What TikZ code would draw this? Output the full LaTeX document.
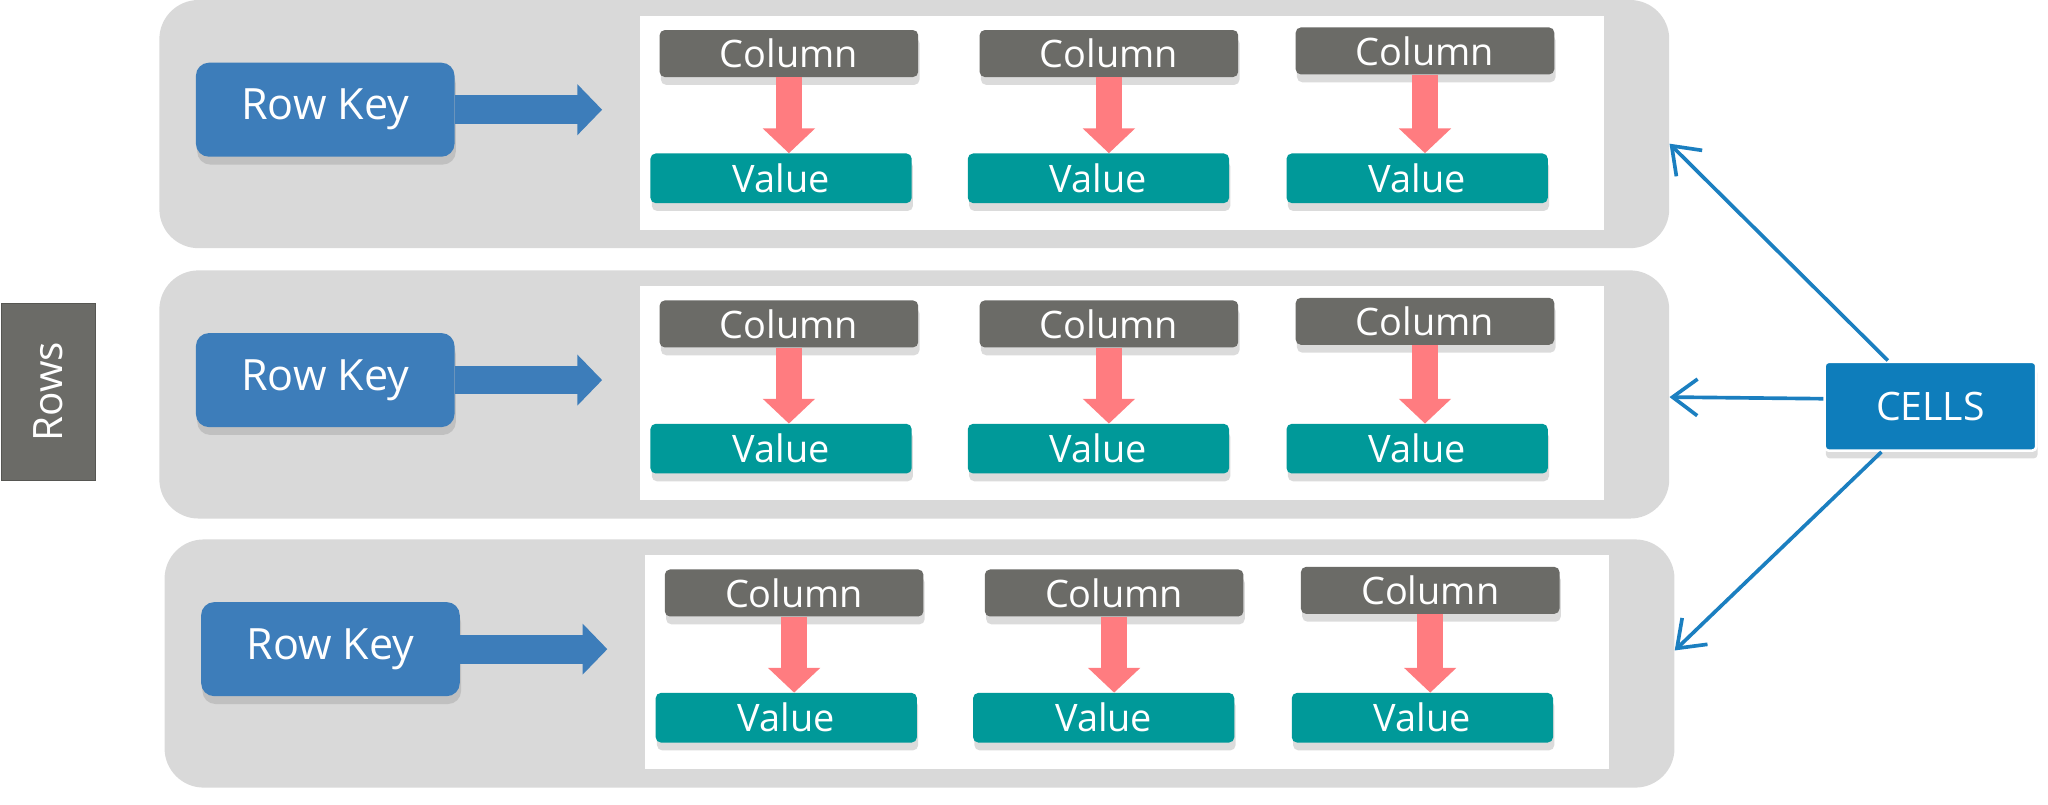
\documentclass[tikz,border=0pt]{standalone}
\usepackage{fontspec}
\setmainfont{Open Sans}
\usetikzlibrary{arrows.meta,shadows}
\definecolor{rowgray}{HTML}{D9D9D9}
\definecolor{colgray}{HTML}{6B6B67}
\definecolor{valteal}{HTML}{009999}
\definecolor{keyblue}{HTML}{3D7DBA}
\definecolor{cellblue}{HTML}{0E7DBB}
\definecolor{linkblue}{HTML}{1B7FC0}
\definecolor{arrowred}{HTML}{FF7C80}
\begin{document}
\begin{tikzpicture}[x=1pt,y=-1pt,
    boxshadow/.style={drop shadow={shadow xshift=1pt,shadow yshift=-6pt,opacity=0.28}},
    rowbox/.style={fill=rowgray,rounded corners=30pt,minimum width=1156pt,minimum height=190pt,inner sep=0pt},
    innerbox/.style={fill=white,minimum width=738pt,minimum height=164pt,inner sep=0pt},
    keybox/.style={fill=keyblue,rounded corners=10pt,minimum width=198pt,minimum height=72pt,
        text=white,font=\fontsize{33}{36}\selectfont,boxshadow},
    colbox/.style={fill=colgray,rounded corners=4pt,minimum width=198pt,minimum height=36pt,inner sep=0pt,
        text=white,font=\fontsize{29}{32}\selectfont,boxshadow},
    valbox/.style={fill=valteal,rounded corners=4pt,minimum width=200pt,minimum height=38pt,inner sep=0pt,
        text=white,font=\fontsize{29}{32}\selectfont,boxshadow},
    keyarrow/.style={draw=keyblue,line width=22pt,-{Triangle[width=38pt,length=19pt]}},
    cellarrow/.style={draw=arrowred,line width=20pt,-{Triangle[width=39pt,length=19pt]}},
    linkarrow/.style={draw=linkblue,line width=2.8pt,-{Straight Barb[length=19pt,width=28pt,line width=2.8pt]}},
    datarow/.pic={
        \node[rowbox] (-box) at (578,95) {};
        \node[innerbox] (-inner) at (737,94) {};
        \node[keybox] (-key) at (127,84) {Row Key};
        \coordinate (-tip) at (339,84);
        \draw[keyarrow] (-key.east) -- (-tip);
        \foreach \i/\cx/\cy/\vx in {1/482/41/476,2/727/41/719,3/969/39/963}{
            \node[colbox] (-col\i) at (\cx,\cy) {Column};
            \node[valbox] (-val\i) at (\vx,136.5) {Value};
            \draw[cellarrow] (-col\i.south) -- (-col\i.south |- -val\i.north);
        }
    }
]
\useasboundingbox (0,0) rectangle (1568,616);
% three rows of the table
\pic (r1) at (122,0) {datarow};
\pic (r2) at (122,207) {datarow};
\pic (r3) at (126,413) {datarow};
% side labels
\node[fill=colgray,draw=colgray!80!black,minimum width=72pt,minimum height=136pt,
    text=white,font=\fontsize{31}{34}\selectfont] (rows) at (37,300) {\rotatebox{90}{Rows}};
\node[fill=cellblue,draw=white,line width=2pt,rounded corners=3pt,minimum width=162pt,minimum height=68pt,
    text=white,font=\fontsize{30}{33}\selectfont,boxshadow] (cells) at (1478,311) {CELLS};
\draw[linkarrow] (cells.133) -- ([yshift=-15pt]r1-box.east);
\draw[linkarrow] (cells.176) -- ([yshift=-2pt]r2-box.east);
\draw[linkarrow] (cells.223) -- ([yshift=10pt]r3-box.east);
\end{tikzpicture}
\end{document}
